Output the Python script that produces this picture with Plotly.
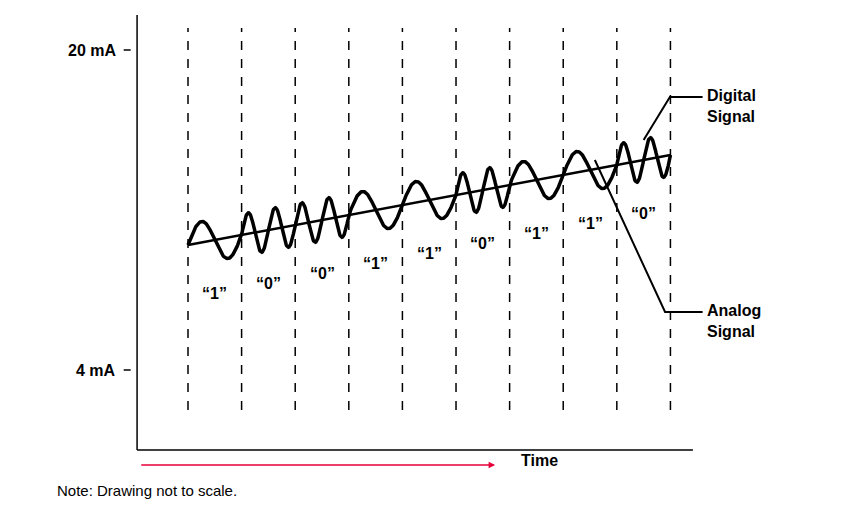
import numpy as np
import plotly.graph_objects as go

# bit cells and their labels
bits = [1, 0, 0, 1, 1, 0, 1, 1, 0]
cycles_per_bit = {1: 1, 0: 2}
analog_start_ma = 10.25
analog_end_ma = 14.75
ripple_ma = 1.05
tick_values = [4, 20]
tick_labels = ["4 mA", "20 mA"]

n = len(bits)
font = "Liberation Sans, Arial, sans-serif"

# digital waveform riding on the analog line
t_all, y_all = [], []
for i, b in enumerate(bits):
    t = np.linspace(i, i + 1, 120)
    base = analog_start_ma + (analog_end_ma - analog_start_ma) * t / n
    y = base + ripple_ma * np.sin(2 * np.pi * cycles_per_bit[b] * (t - i))
    t_all.extend(t)
    y_all.extend(y)

fig = go.Figure()
fig.add_trace(go.Scatter(x=t_all, y=y_all, mode="lines",
                         line=dict(color="black", width=3.5), hoverinfo="skip"))
fig.add_trace(go.Scatter(x=[0, n], y=[analog_start_ma, analog_end_ma], mode="lines",
                         line=dict(color="black", width=2.5), hoverinfo="skip"))

# dashed cell boundaries
for i in range(n + 1):
    fig.add_shape(type="line", x0=i, x1=i, y0=2.0, y1=21.1,
                  line=dict(color="black", width=1.5, dash="dash"))

# axes
fig.add_shape(type="line", x0=-0.95, x1=-0.95, y0=0, y1=21.75, line=dict(color="black", width=1.5))
fig.add_shape(type="line", x0=-0.95, x1=9.42, y0=0, y1=0, line=dict(color="black", width=1.5))
for v, lab in zip(tick_values, tick_labels):
    fig.add_shape(type="line", x0=-1.2, x1=-1.07, y0=v, y1=v, line=dict(color="black", width=1.5))
    fig.add_annotation(x=-1.3, y=v, text="<b>%s</b>" % lab, showarrow=False,
                       xanchor="right", font=dict(family=font, size=16, color="black"))

# bit labels
for i, b in enumerate(bits):
    c = i + 0.5
    base = analog_start_ma + (analog_end_ma - analog_start_ma) * c / n
    fig.add_annotation(x=c, y=base - 2.65, text="<b>\u201c%d\u201d</b>" % b, showarrow=False,
                       font=dict(family=font, size=16, color="black"))

# callouts
fig.add_trace(go.Scatter(x=[8.5, 8.99, 9.6], y=[15.5, 17.65, 17.65], mode="lines",
                         line=dict(color="black", width=2), hoverinfo="skip"))
fig.add_trace(go.Scatter(x=[7.59, 8.9, 9.6], y=[14.5, 6.9, 6.9], mode="lines",
                         line=dict(color="black", width=2), hoverinfo="skip"))
fig.add_annotation(x=9.65, y=17.2, text="<b>Digital<br>Signal</b>", showarrow=False,
                   xanchor="left", align="left", font=dict(family=font, size=16, color="black"))
fig.add_annotation(x=9.65, y=6.45, text="<b>Analog<br>Signal</b>", showarrow=False,
                   xanchor="left", align="left", font=dict(family=font, size=16, color="black"))

# time arrow
fig.add_annotation(x=5.73, y=-0.75, ax=-0.9, ay=-0.75, xref="x", yref="y", axref="x", ayref="y",
                   text="", showarrow=True, arrowhead=2, arrowsize=1, arrowwidth=1.3,
                   arrowcolor="#e8003a")
fig.add_annotation(x=6.55, y=-0.5, text="<b>Time</b>", showarrow=False,
                   font=dict(family=font, size=16, color="black"))
fig.add_annotation(x=-2.48, y=-2.0, text="Note: Drawing not to scale.", showarrow=False,
                   xanchor="left", font=dict(family=font, size=15, color="black"))

fig.update_layout(
    width=842, height=514, margin=dict(l=0, r=0, t=0, b=0),
    paper_bgcolor="white", plot_bgcolor="white", showlegend=False,
    xaxis=dict(range=[-3.358, 12.35], visible=False, fixedrange=True),
    yaxis=dict(range=[-3.6, 22.1], visible=False, fixedrange=True),
)
fig.write_html("out.html")
